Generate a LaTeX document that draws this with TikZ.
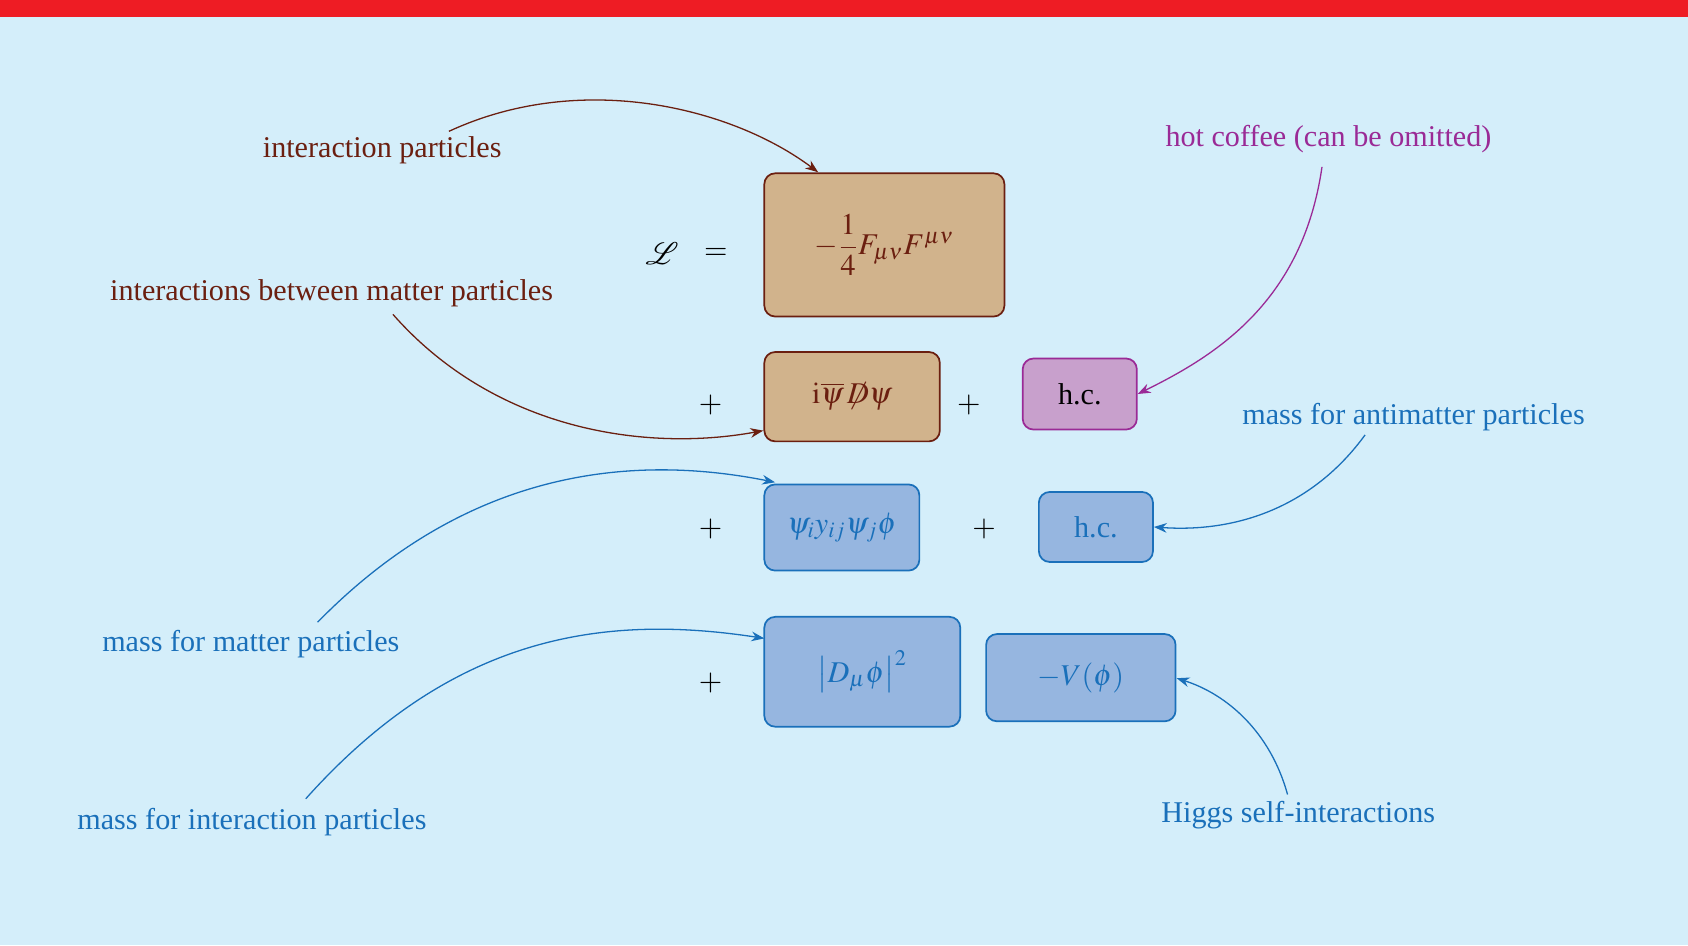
\documentclass[tikz,border=0pt]{standalone}
\usepackage{amsmath}
\usepackage{mathptmx}
\usepackage{mathrsfs}
\usepackage[no-math]{fontspec}
\setmainfont{Liberation Serif}
\usetikzlibrary{arrows.meta}
\definecolor{bg}{HTML}{D4EEFA}
\definecolor{redbar}{HTML}{EE1C24}
\definecolor{brn}{HTML}{6B1F10}
\definecolor{tan}{HTML}{D1B38C}
\definecolor{mag}{HTML}{9A2A96}
\definecolor{magf}{HTML}{C8A0CC}
\definecolor{blu}{HTML}{1A70BA}
\definecolor{bluf}{HTML}{96B6E0}
\begin{document}
\begin{tikzpicture}[x=0.5pt,y=-0.5pt,
  every node/.style={font=\fontsize{14}{16}\selectfont},
  bbox/.style={draw=brn,fill=tan,text=brn,rounded corners=5pt,line width=0.8pt,inner sep=0pt},
  mbox/.style={draw=mag,fill=magf,text=black,rounded corners=5pt,line width=0.8pt,inner sep=0pt},
  lbox/.style={draw=blu,fill=bluf,text=blu,rounded corners=5pt,line width=0.8pt,inner sep=0pt},
  barr/.style={brn,-{Stealth[length=6pt]},line width=0.6pt},
  marr/.style={mag,-{Stealth[length=6pt]},line width=0.6pt},
  larr/.style={blu,-{Stealth[length=6pt]},line width=0.6pt}]
\fill[bg] (0,0) rectangle (1568,878);
\fill[redbar] (0,0) rectangle (1568,16);
\useasboundingbox (0,0) rectangle (1568,878);
% boxes
\node[bbox,minimum width=111.5pt,minimum height=66.5pt] (b1) at (821.5,227.5) {$-\dfrac{1}{4}F_{\mu\nu}F^{\mu\nu}$};
\node[bbox,minimum width=81.5pt,minimum height=41.5pt] (b2) at (791.5,368.5) {$\mathrm{i}\overline{\psi}\!\not\!\!D\psi$};
\node[mbox,minimum width=53pt,minimum height=33pt] (h1) at (1003,366) {h.c.};
\node[lbox,minimum width=72pt,minimum height=40pt] (b3) at (782,490) {$\psi_i y_{ij}\psi_j\phi$};
\node[lbox,minimum width=53pt,minimum height=32.5pt] (h2) at (1018,489.5) {h.c.};
\node[lbox,minimum width=91pt,minimum height=51pt] (b4) at (801,624) {$\left|D_\mu\phi\right|^2$};
\node[lbox,minimum width=88pt,minimum height=40.5pt] (b5) at (1004,629.5) {$-V(\phi)$};
% operators
\node (L) at (615,236) {$\mathscr{L}$};
\node (eq) at (665,236) {$=$};
\node (p1) at (660,376) {$+$};
\node (p2) at (900,376) {$+$};
\node (p3) at (660,491) {$+$};
\node (p4) at (914,491) {$+$};
\node (p5) at (660,634) {$+$};
% labels
\node[text=brn] (t1) at (355,140) {interaction particles};
\node[text=brn] (t2) at (308,272) {interactions between matter particles};
\node[text=mag] (t3) at (1234,129) {hot coffee (can be omitted)};
\node[text=blu] (t4) at (1313,387) {mass for antimatter particles};
\node[text=blu] (t5) at (233,598) {mass for matter particles};
\node[text=blu] (t6) at (234,764) {mass for interaction particles};
\node[text=blu] (t7) at (1206,757) {Higgs self-interactions};
% free ends
\coordinate (s1) at (417,122); \coordinate (e1) at (760,160);
\coordinate (s2) at (365,292); \coordinate (e2) at (709,400);
\coordinate (s3) at (1228,155);
\coordinate (s4) at (1268,404);
\coordinate (s5) at (295,578); \coordinate (e5) at (720,448);
\coordinate (s6) at (284,742); \coordinate (e6) at (710,593);
\coordinate (s7) at (1196,738); \coordinate (e7) at (1093,630);
\draw[barr] (s1) .. controls (540,65) and (680,100) .. (e1);
\draw[barr] (s2) .. controls (460,400) and (600,420) .. (e2);
\draw[marr] (s3) .. controls (1210,280) and (1130,330) .. (h1.east);
\draw[larr] (s4) .. controls (1220,470) and (1150,495) .. (h2.east);
\draw[larr] (s5) .. controls (430,440) and (580,420) .. (e5);
\draw[larr] (s6) .. controls (420,590) and (560,570) .. (e6);
\draw[larr] (s7) .. controls (1180,680) and (1140,645) .. (e7);
\end{tikzpicture}
\end{document}
